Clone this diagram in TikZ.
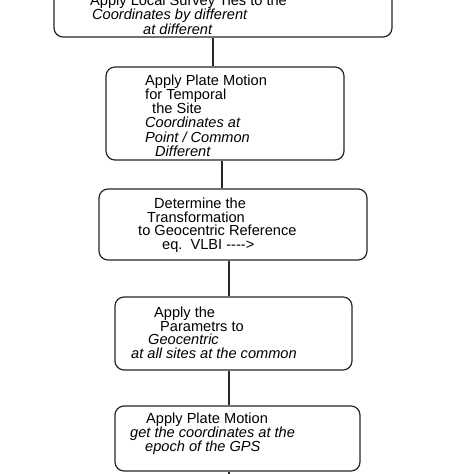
\documentclass[tikz,border=0pt]{standalone}
\usepackage{fontspec}
\setmainfont{Liberation Sans}
\begin{document}
\begin{tikzpicture}[x=1pt,y=-1pt,
  box/.style={draw=black!85, line width=1.2pt, rounded corners=9pt, inner sep=0pt, fill=white},
  txt/.style={anchor=base west, inner sep=0pt, font=\fontsize{14.6}{14}\selectfont},
  itx/.style={txt, font=\fontsize{14.6}{14}\selectfont\itshape},
  conn/.style={draw=black!85, line width=1.2pt}]
\useasboundingbox (0,0) rectangle (474,474);
\clip (0,0) rectangle (474,474);
\fill[white] (0,0) rectangle (474,474);
% boxes
\node[box, minimum width=338pt, minimum height=67pt] (b1) at (223,3.5) {};
\node[box, minimum width=238pt, minimum height=93pt] (b2) at (225,113.5) {};
\node[box, minimum width=268pt, minimum height=71pt] (b3) at (233,224.5) {};
\node[box, minimum width=237pt, minimum height=73pt] (b4) at (233.5,333.5) {};
\node[box, minimum width=245pt, minimum height=65pt] (b5) at (237.5,438.5) {};
\coordinate (bend) at (229,480);
% connectors
\draw[conn] (b1.south -| 213,0) -- (b2.north -| 213,0);
\draw[conn] (b2.south -| 222,0) -- (b3.north -| 222,0);
\draw[conn] (b3.south -| 229,0) -- (b4.north -| 229,0);
\draw[conn] (b4.south -| 229,0) -- (b5.north -| 229,0);
\draw[conn] (b5.south -| 229,0) -- (bend);
% box 1 text
\node[txt] (t11) at (90,5) {Apply Local Survey Ties to the};
\node[itx] (t12) at (92,19.5) {Coordinates by different};
\node[itx] (t13) at (143,34) {at different};
% box 2 text
\node[txt] (t21) at (145,85) {Apply Plate Motion};
\node[txt] (t22) at (145,99) {for Temporal};
\node[txt] (t23) at (152,113) {the Site};
\node[itx] (t24) at (145,127.5) {Coordinates at};
\node[itx] (t25) at (145,142) {Point / Common};
\node[itx] (t26) at (155,156) {Different};
% box 3 text
\node[txt] (t31) at (154,208.5) {Determine the};
\node[txt] (t32) at (147,222) {Transformation};
\node[txt] (t33) at (138,235.5) {to Geocentric Reference};
\node[txt] (t34) at (162,249) {eq.\ \ VLBI -{}-{}-{}->};
% box 4 text
\node[txt] (t41) at (154,317) {Apply the};
\node[txt] (t42) at (160,331) {Parametrs to};
\node[itx] (t43) at (148,344.5) {Geocentric};
\node[itx] (t44) at (131,358.5) {at all sites at the common};
% box 5 text
\node[txt] (t51) at (146,423) {Apply Plate Motion};
\node[itx] (t52) at (130,437) {get the coordinates at the};
\node[itx] (t53) at (145,451) {epoch of the GPS};
\end{tikzpicture}
\end{document}
